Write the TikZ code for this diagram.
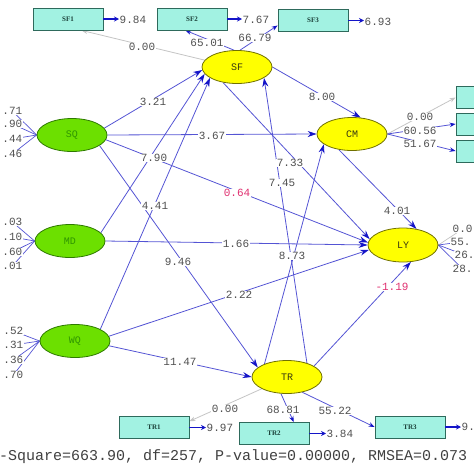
\documentclass[tikz,border=0pt]{standalone}
\usepackage{fontspec}
\usetikzlibrary{shapes.geometric,arrows.meta,backgrounds}
\newfontfamily\monof{Liberation Mono}
\newfontfamily\serf{Liberation Serif}
\definecolor{pathblue}{HTML}{5454D4}
\definecolor{tipblue}{HTML}{1414C8}
\definecolor{labgray}{HTML}{505050}
\definecolor{labred}{HTML}{E03070}
\definecolor{yel}{HTML}{FFFF00}
\definecolor{yelborder}{HTML}{707000}
\definecolor{yeltext}{HTML}{3A3A10}
\definecolor{grn}{HTML}{6CE000}
\definecolor{grnborder}{HTML}{2E7A00}
\definecolor{grntext}{HTML}{2F9600}
\definecolor{boxfill}{HTML}{A2F2E2}
\definecolor{boxborder}{HTML}{2E6A5C}
\definecolor{boxtext}{HTML}{1A4038}
\definecolor{fixgray}{HTML}{C4C4C4}
\begin{document}
\begin{tikzpicture}[x=1pt,y=-1pt,
  lat/.style={ellipse,draw=yelborder,fill=yel,line width=0.8pt,minimum width=70pt,minimum height=33pt,inner sep=0pt,font=\monof\fontsize{10}{12}\selectfont,text=yeltext},
  exo/.style={lat,draw=grnborder,fill=grn,text=grntext},
  ind/.style={rectangle,draw=boxborder,fill=boxfill,line width=0.8pt,minimum width=70pt,minimum height=22pt,inner sep=0pt,font=\serf\bfseries\fontsize{7}{8}\selectfont,text=boxtext},
  lab/.style={fill=white,inner sep=0.5pt,font=\monof\fontsize{11}{12}\selectfont,text=labgray},
  redlab/.style={lab,text=labred},
  sidelab/.style={inner sep=0.5pt,font=\monof\fontsize{11}{12}\selectfont,text=labgray},
  conn/.style={draw=pathblue,line width=0.8pt,-{Stealth[length=9pt,width=6pt,color=tipblue]}},
  load/.style={draw=pathblue,line width=0.8pt,-{Stealth[length=6pt,width=4.5pt,color=tipblue]}},
  fixload/.style={draw=fixgray,line width=0.8pt,-{Stealth[length=6pt,width=4.5pt,color=fixgray]}},
  errarr/.style={draw=tipblue,line width=1.6pt,-{Stealth[length=5pt,width=5pt]}},
  fanline/.style={draw=pathblue,line width=0.7pt},
]
\useasboundingbox (0,0) rectangle (474,474);
\begin{scope}
\clip (0,0) rectangle (474,474);
% latent variables
\node[lat] (sf) at (237,67) {SF};
\node[lat] (cm) at (352,134) {CM};
\node[lat,minimum height=34pt] (ly) at (403,245) {LY};
\node[lat] (tr) at (287,377) {TR};
\node[exo] (sq) at (72,135) {SQ};
\node[exo] (md) at (70,241) {MD};
\node[exo] (wq) at (75,341) {WQ};
% indicators
\node[ind] (sf1) at (68,19) {SF1};
\node[ind] (sf2) at (192,19) {SF2};
\node[ind] (sf3) at (313,20.5) {SF3};
\node[ind] (cm1) at (491,97.5) {};
\node[ind] (cm2) at (491,124) {};
\node[ind] (cm3) at (491,151) {};
\node[ind] (tr1) at (154,427.5) {TR1};
\node[ind] (tr2) at (274,433.5) {TR2};
\node[ind] (tr3) at (410,427) {TR3};
% error variances
\node[sidelab,anchor=west] (esf1) at (119,20) {9.84};
\node[sidelab,anchor=west] (esf2) at (242,20) {7.67};
\node[sidelab,anchor=west] (esf3) at (364,22) {6.93};
\node[sidelab,anchor=west] (etr1) at (206,428) {9.97};
\node[sidelab,anchor=west] (etr2) at (326,434) {3.84};
\node[sidelab,anchor=west] (etr3) at (461,427) {9.};
% loading labels
\node[lab] (lsf1) at (142,47) {0.00};
\node[lab] (lsf2) at (207,43) {65.01};
\node[lab] (lsf3) at (255,38) {66.79};
\node[lab] (lcm1) at (420,117) {0.00};
\node[lab] (lcm2) at (420,131) {60.56};
\node[lab] (lcm3) at (420,144) {51.67};
\node[lab] (ltr1) at (225,409) {0.00};
\node[lab] (ltr2) at (283,410) {68.81};
\node[lab] (ltr3) at (335,411) {55.22};
% structural labels
\node[lab] (p1) at (153,102) {3.21};
\node[lab] (p2) at (212,136) {3.67};
\node[redlab] (p3) at (237,193) {0.64};
\node[lab] (p4) at (178,262) {9.46};
\node[lab] (p5) at (154,158) {7.90};
\node[lab] (p6) at (236,244) {1.66};
\node[lab] (p7) at (155,206) {4.41};
\node[lab] (p8) at (239,295) {2.22};
\node[lab] (p9) at (180,362) {11.47};
\node[lab] (p10) at (322,97) {8.00};
\node[lab] (p11) at (290,163) {7.33};
\node[lab] (p12) at (282,183) {7.45};
\node[lab] (p13) at (292,256) {8.73};
\node[redlab] (p14) at (392,287) {-1.19};
\node[lab] (p15) at (397,211) {4.01};
% left fan labels
\node[lab,anchor=east] (x1) at (23,111) {.71};
\node[lab,anchor=east] (x2) at (23,124) {.90};
\node[lab,anchor=east] (x3) at (23,139) {.44};
\node[lab,anchor=east] (x4) at (23,154) {.46};
\node[lab,anchor=east] (x5) at (23,222) {.03};
\node[lab,anchor=east] (x6) at (23,237) {.10};
\node[lab,anchor=east] (x7) at (23,252) {.60};
\node[lab,anchor=east] (x8) at (23,266) {.01};
\node[lab,anchor=east] (x9) at (24,331) {.52};
\node[lab,anchor=east] (x10) at (24,345) {.31};
\node[lab,anchor=east] (x11) at (24,360) {.36};
\node[lab,anchor=east] (x12) at (24,375) {.70};
% right fan labels
\node[lab,anchor=west] (y1) at (452,229) {0.0};
\node[lab,anchor=west] (y2) at (450,242) {55.};
\node[lab,anchor=west] (y3) at (454,255) {26.};
\node[lab,anchor=west] (y4) at (452,269) {28.};
% fit line
\node[anchor=west,inner sep=0pt,font=\monof\fontsize{15}{16}\selectfont,text=labgray!80!black] (fit) at (-1,457) {-Square=663.90, df=257, P-value=0.00000, RMSEA=0.073};
% error arrows
\draw[errarr] (sf1.east) -- (esf1.west |- sf1.east);
\draw[errarr] (sf2.east) -- (esf2.west |- sf2.east);
\draw[errarr] (sf3.east) -- (esf3.west |- sf3.east);
\draw[errarr] (tr1.east) -- (etr1.west |- tr1.east);
\draw[errarr] (tr2.east) -- (etr2.west |- tr2.east);
\draw[errarr] (tr3.east) -- (etr3.west |- tr3.east);
\end{scope}
\begin{pgfonlayer}{background}
\clip (0,0) rectangle (474,474);
% structural paths
\draw[conn] (sq.12) -- (sf.185);
\draw[conn] (sq.0) -- (cm.180);
\draw[conn] (sq.-8) -- (ly.176);
\draw[conn] (sq.-21) -- (tr.162);
\draw[conn] (md.15) -- (sf.192);
\draw[conn] (md.0) -- (ly.180);
\draw[conn] (wq.25) -- (sf.202);
\draw[conn] (wq.8) -- (ly.188);
\draw[conn] (wq.-8) -- (tr.180);
\draw[conn] (sf.0) -- (cm.62);
\draw[conn] (sf.228) -- (ly.170);
\draw[conn] (tr.35) -- (sf.-22);
\draw[conn] (tr.150) -- (cm.200);
\draw[conn] (tr.22) -- (ly.-65);
\draw[conn] (cm.-130) -- (ly.50);
% loadings
\draw[fixload] (sf.168) -- (sf1.-40);
\draw[load] (sf.100) -- (sf2.-120);
\draw[load] (sf.80) -- (sf3.188);
\draw[fixload] (cm.0) -- (cm1.west);
\draw[load] (cm.0) -- (cm2.west);
\draw[load] (cm.0) -- (cm3.west);
\draw[fixload] (tr.205) -- (tr1.10);
\draw[load] (tr.-110) -- (tr2.30);
\draw[load] (tr.-45) -- (tr3.west);
% fans
\foreach \n in {x1,x2,x3,x4} \draw[fanline] (sq.west) -- (\n.center);
\foreach \n in {x5,x6,x7,x8} \draw[fanline] (md.west) -- (\n.center);
\foreach \n in {x9,x10,x11,x12} \draw[fanline] (wq.west) -- (\n.center);
\draw[fanline,draw=fixgray] (ly.east) -- (y1.center);
\foreach \n in {y2,y3,y4} \draw[fanline] (ly.east) -- (\n.center);
\end{pgfonlayer}
\end{tikzpicture}
\end{document}
